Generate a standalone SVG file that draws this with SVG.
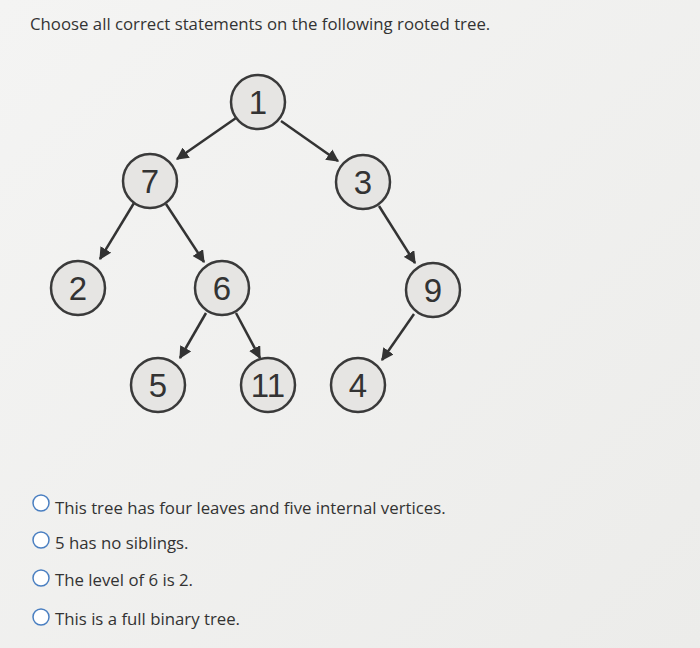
<svg xmlns="http://www.w3.org/2000/svg" width="700" height="648" viewBox="0 0 700 648">
<style>
.n circle{fill:#e6e5e3;stroke:#3a3a3a;stroke-width:2.5}
.n text{font-family:"Liberation Sans",Arial,sans-serif;font-size:33px;fill:#333;text-anchor:middle}
.e line{stroke:#333;stroke-width:2.5;marker-end:url(#a)}
.t{font-family:"Open Sans","Liberation Sans",sans-serif;font-size:16.8px;fill:#333}
.o{fill:#fff;stroke:#4a7fc1;stroke-width:1.5}
</style>
<defs><marker id="a" viewBox="0 0 10 10" refX="9" refY="5" markerWidth="5" markerHeight="5" orient="auto"><path d="M0,0L10,5L0,10z" fill="#333"/></marker>
<linearGradient id="bg" x1="0" y1="0" x2="1" y2="1"><stop offset="0" stop-color="#f4f4f3"/><stop offset="1" stop-color="#ececea"/></linearGradient></defs>
<rect width="700" height="648" fill="url(#bg)"/>
<text class="t" x="30" y="30" font-size="18">Choose all correct statements on the following rooted tree.</text>
<g class="e" id="edges">
<line x1="236" y1="118" x2="177" y2="159"/>
<line x1="281" y1="121" x2="338" y2="161"/>
<line x1="134" y1="203" x2="100" y2="259"/>
<line x1="166" y1="204" x2="204" y2="262"/>
<line x1="379" y1="206" x2="415" y2="263"/>
<line x1="206" y1="313" x2="180" y2="358"/>
<line x1="236" y1="313" x2="260" y2="358"/>
<line x1="414" y1="314" x2="382" y2="360"/>
</g>
<g class="n" id="n1"><circle cx="258" cy="102" r="27"/><text x="258" y="114">1</text></g>
<g class="n" id="n7"><circle cx="150" cy="181" r="27"/><text x="150" y="193">7</text></g>
<g class="n" id="n3"><circle cx="363" cy="182" r="27"/><text x="363" y="194">3</text></g>
<g class="n" id="n2"><circle cx="78" cy="288" r="27"/><text x="78" y="300">2</text></g>
<g class="n" id="n6"><circle cx="222" cy="288" r="27"/><text x="222" y="300">6</text></g>
<g class="n" id="n9"><circle cx="433" cy="290" r="27"/><text x="433" y="302">9</text></g>
<g class="n" id="n5"><circle cx="158" cy="385" r="27"/><text x="158" y="397">5</text></g>
<g class="n" id="n11"><circle cx="268" cy="385" r="27"/><text x="268" y="397">11</text></g>
<g class="n" id="n4"><circle cx="358" cy="385" r="27"/><text x="358" y="397">4</text></g>
<circle class="o" cx="41" cy="503" r="8"/><text class="t" x="55" y="514">This tree has four leaves and five internal vertices.</text>
<circle class="o" cx="41" cy="540" r="8"/><text class="t" x="55" y="549">5 has no siblings.</text>
<circle class="o" cx="41" cy="578" r="8"/><text class="t" x="55" y="586">The level of 6 is 2.</text>
<circle class="o" cx="41" cy="617" r="8"/><text class="t" x="55" y="625">This is a full binary tree.</text>
</svg>
